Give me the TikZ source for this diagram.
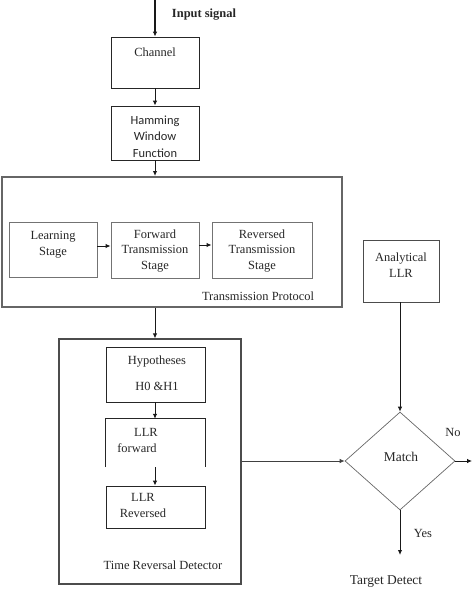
\documentclass[tikz,border=0pt]{standalone}
\usepackage{fontspec}
\setmainfont{Liberation Serif}
\newfontfamily\calib{Carlito}
\usetikzlibrary{arrows.meta,shapes.geometric}
\begin{document}
\begin{tikzpicture}[x=1bp,y=-1bp,
  font=\fontsize{12.5}{16}\selectfont,
  txt/.style={text=black!85, inner sep=0pt, align=center},
  box/.style={draw=black!85, line width=0.8pt, inner sep=0pt, rectangle},
  gbox/.style={draw=black!55, line width=0.9pt, inner sep=0pt, rectangle},
  arr/.style={-{Latex[length=5pt,width=4.5pt]}, line width=1pt, draw=black!90},
]
\useasboundingbox (0,0) rectangle (474,590);
% input
\coordinate (in) at (155,0);
\node[txt, font=\fontsize{12.5}{16}\selectfont\bfseries] (inT) at (204,15) {Input signal};
% channel
\node[box, minimum width=88bp, minimum height=51bp] (chan) at (155,62.5) {};
\node[txt] (chanT) at (155,52) {Channel};
% hamming
\node[box, minimum width=88bp, minimum height=54bp] (ham) at (155,133) {};
\node[txt, font=\calib\fontsize{12.5}{16.5}\selectfont] (hamT) at (155,136.5) {Hamming\\Window\\Function};
% transmission protocol
\node[draw=black!60, line width=2pt, inner sep=0pt, minimum width=340bp, minimum height=130bp] (tp) at (172,242) {};
\node[gbox, minimum width=88bp, minimum height=55bp] (learn) at (53,249.5) {};
\node[txt] (learnT) at (53,244.5) {Learning\\Stage};
\node[gbox, minimum width=88bp, minimum height=56bp] (fwd) at (155,250) {};
\node[txt] (fwdT) at (155,251) {Forward\\Transmission\\Stage};
\node[gbox, minimum width=100bp, minimum height=56bp] (rev) at (262,250) {};
\node[txt] (revT) at (262,251) {Reversed\\Transmission\\Stage};
\node[txt] (tpT) at (258,296) {Transmission Protocol};
% time reversal detector
\node[draw=black!70, line width=1.2pt, inner sep=0pt, minimum width=182bp, minimum height=245bp] (trd) at (150,461.5) {};
\node[box, minimum width=99bp, minimum height=55bp] (hyp) at (155.5,374.5) {};
\node[txt] (hypT1) at (157,362) {Hypotheses};
\node[txt] (hypT2) at (157,386) {H0 \&H1};
\node[inner sep=0pt, minimum width=99bp, minimum height=48bp] (llrf) at (155.5,443) {};
\draw[black!85, line width=0.8pt] (llrf.south west) -- (llrf.north west) -- (llrf.north east) -- (llrf.south east);
\node[txt] (llrfT1) at (146,432) {LLR};
\node[txt] (llrfT2) at (137,448) {forward};
\node[box, minimum width=99bp, minimum height=42bp] (llrr) at (155.5,507) {};
\node[txt] (llrrT1) at (143,497) {LLR};
\node[txt] (llrrT2) at (143,513) {Reversed};
\node[txt] (trdT) at (163,565) {Time Reversal Detector};
% analytical and match
\node[gbox, draw=black!70, minimum width=76bp, minimum height=62bp] (ana) at (401,271) {};
\node[txt] (anaT) at (401,265.5) {Analytical\\LLR};
\node[diamond, draw=black!60, line width=0.7pt, inner sep=0pt, minimum width=110bp, minimum height=98bp] (match) at (400,461) {};
\node[txt, font=\fontsize{13.5}{16}\selectfont] (matchT) at (401,457) {Match};
\node[txt] (noT) at (453,432) {No};
\node[txt] (yesT) at (423,533) {Yes};
\coordinate (noEnd) at (472,461);
\coordinate (yesEnd) at (400,555);
\node[txt, font=\fontsize{13.5}{16}\selectfont] (tdT) at (386,582) {Target Detect};
% connectors
\draw[arr, line width=1.6pt] (in) -- (chan.north);
\draw[arr] (chan.south) -- (ham.north);
\draw[arr] (ham.south) -- (tp.north -| ham.south);
\draw[arr] (learn.east |- 0,246) -- (fwd.west |- 0,246);
\draw[arr] (fwd.east |- 0,245) -- (rev.west |- 0,245);
\draw[arr] (tp.south -| ham.south) -- (trd.north -| ham.south);
\draw[arr] (hyp.south -| 155,0) -- (llrf.north -| 155,0);
\draw[arr] (llrf.south -| 155,0) -- (llrr.north -| 155,0);
\draw[arr, line width=0.8pt, draw=black!75] (trd.east |- match.west) -- (match.west);
\draw[arr, line width=0.8pt] (ana.south -| match.north) -- (match.north);
\draw[arr, line width=0.8pt] (match.east) -- (noEnd);
\draw[arr] (match.south) -- (yesEnd);
\end{tikzpicture}
\end{document}
